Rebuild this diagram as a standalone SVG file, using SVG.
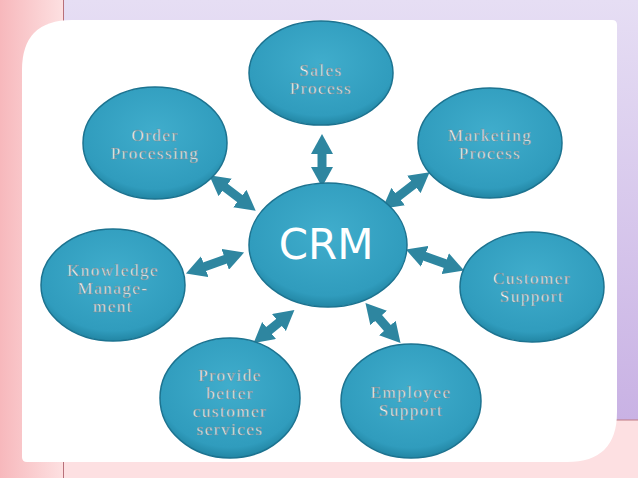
<svg xmlns="http://www.w3.org/2000/svg" width="638" height="478" viewBox="0 0 638 478">
<defs>
<linearGradient id="pink" x1="0" y1="0" x2="1" y2="0"><stop offset="0" stop-color="#f7b8bc"/><stop offset="1" stop-color="#fde0e1"/></linearGradient>
<linearGradient id="lav" x1="0" y1="0" x2="0" y2="1"><stop offset="0" stop-color="#e6def4"/><stop offset="1" stop-color="#c9b2e4"/></linearGradient>
<radialGradient id="ball" cx="0.5" cy="0.4" r="0.6"><stop offset="0" stop-color="#40adcc"/><stop offset="0.85" stop-color="#309cbd"/><stop offset="1" stop-color="#2286a4"/></radialGradient>
<marker id="ah" viewBox="0 0 10 10" refX="2" refY="5" markerWidth="20" markerHeight="22" markerUnits="userSpaceOnUse" orient="auto-start-reverse" preserveAspectRatio="none"><path d="M0,0 L10,5 L0,10 z" fill="#2e86a0"/></marker>
</defs>
<style>
.node ellipse{fill:url(#ball);stroke:#1c7390;stroke-width:1.5}
.lbl{font-family:"Liberation Serif",serif;font-size:17px;fill:#fff;stroke:#6c8c96;stroke-width:0.5;letter-spacing:1.5px;text-anchor:middle}
.conn line{stroke:#2e86a0;stroke-width:9;marker-start:url(#ah);marker-end:url(#ah)}
</style>
<rect width="638" height="478" fill="#fde0e1"/>
<rect x="0" y="0" width="63" height="478" fill="url(#pink)"/>
<rect x="63" y="0" width="575" height="420" fill="url(#lav)"/>
<rect x="63" y="420" width="575" height="58" fill="#fde0e2"/>
<line x1="63.5" y1="0" x2="63.5" y2="478" stroke="#b8707a" stroke-width="1"/>
<line x1="63" y1="420" x2="638" y2="420" stroke="#c07a84" stroke-width="1"/>
<path d="M72,20 L612,20 Q617,20 617,25 L617,412 Q617,462 567,462 L27,462 Q22,462 22,457 L22,70 Q22,20 72,20 Z" fill="#fff"/>
<g class="conn">
<line x1="322" y1="150" x2="322" y2="171"/>
<line x1="222" y1="185" x2="243" y2="201"/>
<line x1="417" y1="182" x2="395" y2="199"/>
<line x1="201" y1="268" x2="229" y2="258"/>
<line x1="421" y1="255" x2="449" y2="265"/>
<line x1="266" y1="333" x2="282" y2="320"/>
<line x1="376" y1="315" x2="390" y2="331"/>
</g>
<g id="sales" class="node"><ellipse cx="321" cy="73" rx="72" ry="52"/><text class="lbl" x="321" y="76">Sales</text><text class="lbl" x="321" y="94">Process</text></g>
<g id="order" class="node"><ellipse cx="155" cy="143" rx="72" ry="56"/><text class="lbl" x="155" y="141">Order</text><text class="lbl" x="155" y="159">Processing</text></g>
<g id="marketing" class="node"><ellipse cx="490" cy="143" rx="72" ry="55"/><text class="lbl" x="490" y="141">Marketing</text><text class="lbl" x="490" y="159">Process</text></g>
<g id="crm" class="node"><ellipse cx="328" cy="245" rx="79" ry="62"/><text x="326" y="259" font-family="'DejaVu Sans',sans-serif" font-size="42" fill="#fff" text-anchor="middle">CRM</text></g>
<g id="knowledge" class="node"><ellipse cx="113" cy="285" rx="72" ry="56"/><text class="lbl" x="113" y="276">Knowledge</text><text class="lbl" x="113" y="294">Manage-</text><text class="lbl" x="113" y="312">ment</text></g>
<g id="customer" class="node"><ellipse cx="532" cy="287" rx="72" ry="55"/><text class="lbl" x="532" y="284">Customer</text><text class="lbl" x="532" y="302">Support</text></g>
<g id="provide" class="node"><ellipse cx="230" cy="398" rx="70" ry="60"/><text class="lbl" x="230" y="381">Provide</text><text class="lbl" x="230" y="399">better</text><text class="lbl" x="230" y="417">customer</text><text class="lbl" x="230" y="435">services</text></g>
<g id="employee" class="node"><ellipse cx="411" cy="401" rx="70" ry="57"/><text class="lbl" x="411" y="398">Employee</text><text class="lbl" x="411" y="416">Support</text></g>
</svg>
